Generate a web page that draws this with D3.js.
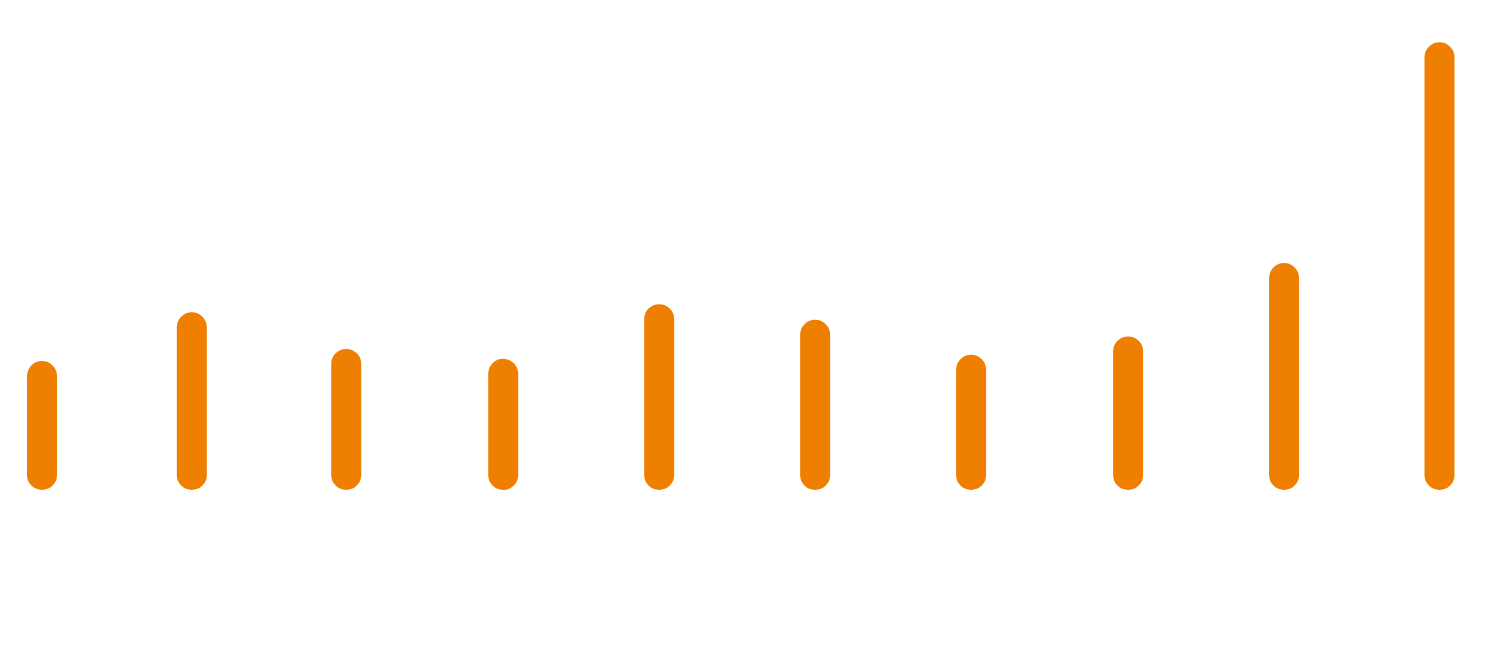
<!DOCTYPE html>
<html>
<head>
<meta charset="utf-8">
<script src="https://cdn.jsdelivr.net/npm/d3@7"></script>
<style>
  html, body { margin: 0; padding: 0; background: #fff; }
  svg { display: block; }
</style>
</head>
<body>
<div id="chart"></div>
<script>
// data
var xValues = [0, 29.2, 59.3, 89.9, 120.3, 150.7, 181.1, 211.7, 242.1, 272.4];
var values = [28.8, 39.7, 31.5, 29.3, 41.5, 38.0, 30.2, 34.3, 50.7, 100];

function init() {
  var w = 1491;
  var h = 645;
  var barWidth = 30;
  var baseline = 490;

  var xScale = d3.scaleLinear()
    .domain([0, d3.max(xValues)])
    .range([42, 1439.5]);

  var yScale = d3.scaleLinear()
    .domain([0, d3.max(values)])
    .range([baseline, 42.3]);

  var svg = d3.select("#chart")
    .append("svg")
    .attr("width", w)
    .attr("height", h);

  svg.selectAll("rect")
    .data(values)
    .enter()
    .append("rect")
    .attr("x", function (d, i) { return xScale(xValues[i]) - barWidth / 2; })
    .attr("y", function (d) { return yScale(d); })
    .attr("width", barWidth)
    .attr("height", function (d) { return baseline - yScale(d); })
    .attr("rx", 15)
    .attr("ry", 15)
    .attr("fill", "#ef7f00");
}

window.onload = init;
</script>
</body>
</html>
